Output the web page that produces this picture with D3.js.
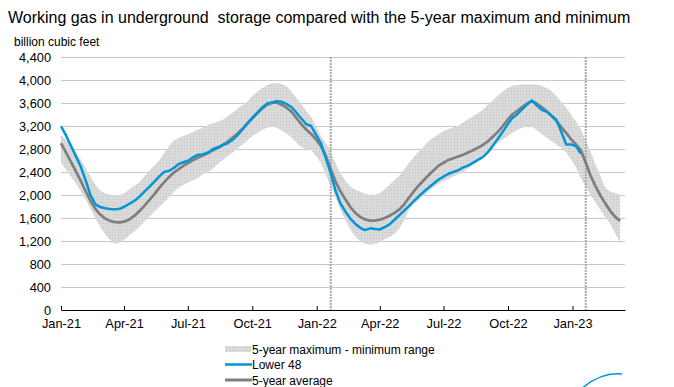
<!DOCTYPE html>
<html>
<head>
<meta charset="utf-8">
<script src="https://cdn.jsdelivr.net/npm/d3@7"></script>
<style>
  body { margin: 0; background: #fff; }
  #chart { width: 674px; height: 387px; }
  text { font-family: "Liberation Sans", Arial, sans-serif; fill: #000; }
  .grid line { stroke: #c9c6cf; stroke-width: 1; }
  .grid .domain { display: none; }
  .axis text { font-size: 12.8px; }
</style>
</head>
<body>
<div id="chart"></div>
<script>
// weekly values, first week ending Jan 1 2021
const firstWeek = new Date(2021, 0, 1);

// Lower 48 working gas (bcf)
const lower48 = [3196, 3040, 2860, 2680, 2500, 2260, 2000, 1840, 1790, 1770,
  1755, 1750, 1760, 1800, 1850, 1900, 1970, 2060, 2140, 2230,
  2320, 2400, 2420, 2470, 2540, 2570, 2600, 2660, 2700, 2710,
  2740, 2800, 2830, 2870, 2900, 2960, 3040, 3140, 3250, 3340,
  3430, 3520, 3590, 3610, 3630, 3620, 3580, 3530, 3430, 3330,
  3230, 3200, 3050, 2900, 2640, 2380, 2070, 1850, 1710, 1590,
  1500, 1430, 1390, 1420, 1410, 1400, 1440, 1490, 1570, 1650,
  1730, 1810, 1900, 1980, 2060, 2130, 2200, 2270, 2320, 2370,
  2400, 2430, 2480, 2510, 2560, 2610, 2660, 2740, 2850, 2970,
  3090, 3220, 3340, 3400, 3490, 3570, 3645, 3560, 3480, 3450,
  3380, 3310, 3100, 2880, 2880, 2850, 2720];

// 5-year average
const avg5 = [2900, 2740, 2580, 2420, 2250, 2070, 1900, 1760, 1660, 1590,
  1550, 1530, 1525, 1540, 1580, 1640, 1720, 1810, 1910, 2010,
  2120, 2220, 2310, 2390, 2450, 2510, 2560, 2610, 2650, 2690,
  2730, 2780, 2820, 2870, 2930, 3000, 3070, 3150, 3240, 3330,
  3420, 3500, 3570, 3600, 3610, 3570, 3520, 3450, 3340, 3230,
  3140, 3060, 2970, 2850, 2680, 2450, 2230, 2060, 1920, 1790,
  1690, 1620, 1575, 1555, 1555, 1570, 1600, 1640, 1690, 1750,
  1840, 1960, 2070, 2170, 2260, 2350, 2430, 2510, 2560, 2610,
  2640, 2670, 2700, 2740, 2780, 2820, 2870, 2930, 3010, 3090,
  3190, 3300, 3400, 3460, 3530, 3590, 3630, 3590, 3530, 3460,
  3380, 3290, 3180, 3080, 2970, 2880, 2780, 2560, 2330, 2150,
  1990, 1850, 1720, 1620, 1550];

// 5-year maximum
const max5 = [3050, 2960, 2860, 2750, 2620, 2470, 2320, 2180, 2080, 2030,
  2010, 2000, 2000, 2040, 2100, 2160, 2220, 2320, 2420, 2510,
  2600, 2720, 2850, 2950, 2990, 3030, 3060, 3100, 3140, 3180,
  3220, 3250, 3280, 3310, 3370, 3430, 3500, 3560, 3620, 3720,
  3800, 3860, 3910, 3950, 3950, 3930, 3890, 3800, 3690, 3580,
  3460, 3360, 3200, 3020, 2900, 2750, 2550, 2380, 2250, 2150,
  2090, 2060, 2020, 2005, 2005, 2030, 2100, 2180, 2260, 2340,
  2450, 2560, 2670, 2760, 2850, 2940, 3000, 3060, 3110, 3150,
  3180, 3210, 3260, 3320, 3370, 3420, 3480, 3560, 3640, 3720,
  3800, 3860, 3900, 3910, 3920, 3920, 3920, 3920, 3900, 3860,
  3810, 3720, 3620, 3520, 3400, 3280, 3140, 2950, 2750, 2530,
  2330, 2120, 2060, 2030, 2010];

// 5-year minimum
const min5 = [2560, 2440, 2320, 2200, 2070, 1920, 1760, 1600, 1450, 1320,
  1220, 1150, 1170, 1230, 1300, 1370, 1450, 1540, 1620, 1710,
  1790, 1870, 1960, 2050, 2130, 2180, 2220, 2260, 2300, 2360,
  2400, 2460, 2540, 2610, 2680, 2740, 2810, 2880, 2950, 3020,
  3080, 3130, 3170, 3190, 3170, 3120, 3070, 3000, 2910, 2830,
  2800, 2780, 2680, 2560, 2350, 2150, 1950, 1740, 1560, 1400,
  1280, 1200, 1150, 1140, 1150, 1180, 1230, 1270, 1320, 1420,
  1560, 1760, 1850, 1920, 2000, 2070, 2140, 2200, 2240, 2280,
  2320, 2360, 2390, 2460, 2540, 2620, 2690, 2760, 2830, 2900,
  2960, 3020, 3080, 3130, 3170, 3190, 3190, 3130, 3060, 3000,
  2940, 2880, 2820, 2740, 2620, 2480, 2290, 2140, 2000, 1870,
  1740, 1610, 1500, 1330, 1170];

// dashed markers (current report week)
const markerDates = [new Date(2022, 0, 21), new Date(2023, 0, 20)];

const yTicks = [0, 400, 800, 1200, 1600, 2000, 2400, 2800, 3200, 3600, 4000, 4400];

const legendItems = ["5-year maximum - minimum range", "Lower 48", "5-year average"];

const width = 674;
const height = 387;
const margin = { top: 57, left: 61, right: 49, bottom: 77 };

const weekDate = function(i) {
  return d3.timeDay.offset(firstWeek, 7 * i);
};

const svg = d3.select("#chart")
  .append("svg")
  .attr("width", width)
  .attr("height", height);

// stipple pattern for the range band
const defs = svg.append("defs");
const pat = defs.append("pattern")
  .attr("id", "stipple")
  .attr("width", 3)
  .attr("height", 3)
  .attr("patternUnits", "userSpaceOnUse");
pat.append("rect").attr("width", 3).attr("height", 3).attr("fill", "#dadada");
pat.append("rect").attr("x", 1).attr("y", 1).attr("width", 1).attr("height", 1).attr("fill", "#c4c4c4");

const xScale = d3.scaleTime()
  .domain([firstWeek, new Date(2023, 2, 17)])
  .range([margin.left, width - margin.right]);

const yScale = d3.scaleLinear()
  .domain([0, 4400])
  .range([height - margin.bottom, margin.top]);

// title
svg.append("text")
  .attr("x", 8)
  .attr("y", 23)
  .style("font-size", "16px")
  .style("white-space", "pre")
  .text("Working gas in underground  storage compared with the 5-year maximum and minimum");

svg.append("text")
  .attr("x", 14)
  .attr("y", 46)
  .style("font-size", "12px")
  .text("billion cubic feet");

// horizontal gridlines
const grid = svg.append("g")
  .attr("class", "grid axis")
  .attr("transform", `translate(${margin.left},0)`)
  .call(d3.axisLeft(yScale)
    .tickValues(yTicks)
    .tickSize(-(width - margin.left - margin.right))
    .tickPadding(10)
    .tickFormat(d3.format(",")));

grid.selectAll(".tick line")
  .attr("stroke", function(d) {
    return d === 0 ? "none" : "#c9c6cf";
  });

// range band
const area = d3.area()
  .x(function(d, i) { return xScale(weekDate(i)); })
  .y0(function(d, i) { return yScale(min5[i]); })
  .y1(function(d) { return yScale(d); });

svg.append("path")
  .datum(max5)
  .attr("d", area)
  .attr("fill", "url(#stipple)");

// dashed markers
svg.selectAll(".marker")
  .data(markerDates)
  .enter()
  .append("line")
  .attr("class", "marker")
  .attr("x1", function(d) { return xScale(d); })
  .attr("x2", function(d) { return xScale(d); })
  .attr("y1", yScale(4400))
  .attr("y2", yScale(0))
  .attr("stroke", "#a9a9a9")
  .attr("stroke-width", 2)
  .attr("stroke-dasharray", "2,1");

const line = d3.line()
  .x(function(d, i) { return xScale(weekDate(i)); })
  .y(function(d) { return yScale(d); });

svg.append("path")
  .datum(avg5)
  .attr("d", line)
  .attr("fill", "none")
  .attr("stroke", "#7f7f7f")
  .attr("stroke-width", 2.75)
  .attr("stroke-linejoin", "round");

svg.append("path")
  .datum(lower48)
  .attr("d", line)
  .attr("fill", "none")
  .attr("stroke", "#0096d7")
  .attr("stroke-width", 2.5)
  .attr("stroke-linejoin", "round");

// x axis
const xAxis = svg.append("g")
  .attr("class", "axis")
  .attr("transform", `translate(0,${height - margin.bottom})`)
  .call(d3.axisBottom(xScale)
    .ticks(d3.timeMonth.every(3))
    .tickSizeInner(-4)
    .tickSizeOuter(0)
    .tickPadding(9)
    .tickFormat(d3.timeFormat("%b-%y")));

xAxis.select(".domain").attr("stroke", "#000");
xAxis.selectAll(".tick line").attr("stroke", "#000");

// legend
const legend = svg.append("g")
  .attr("transform", "translate(225,349)");

legend.append("rect")
  .attr("x", 0)
  .attr("y", -3)
  .attr("width", 26)
  .attr("height", 6)
  .attr("fill", "url(#stipple)");

legend.append("line")
  .attr("x1", 0).attr("x2", 27)
  .attr("y1", 15.5).attr("y2", 15.5)
  .attr("stroke", "#0096d7")
  .attr("stroke-width", 2.5);

legend.append("line")
  .attr("x1", 0).attr("x2", 27)
  .attr("y1", 31).attr("y2", 31)
  .attr("stroke", "#7f7f7f")
  .attr("stroke-width", 3);

legend.selectAll(".legendLabel")
  .data(legendItems)
  .enter()
  .append("text")
  .attr("class", "legendLabel")
  .attr("x", 27)
  .attr("y", function(d, i) { return i * 15.5 + 4.5; })
  .style("font-size", "12px")
  .text(function(d) { return d; });

// partial logo arc at bottom right
svg.append("path")
  .attr("d", "M580,390 Q600,372 622,374")
  .attr("fill", "none")
  .attr("stroke", "#0096d7")
  .attr("stroke-width", 1.5);
</script>
</body>
</html>
